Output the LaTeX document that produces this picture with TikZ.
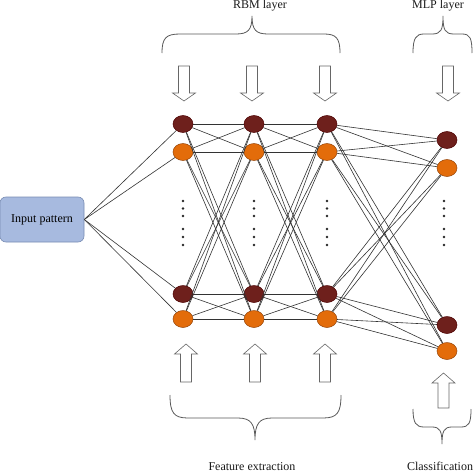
\documentclass[tikz,border=0pt]{standalone}
\usepackage{fontspec}
\setmainfont{Liberation Serif}
\usetikzlibrary{shapes.geometric}
\begin{document}
\begin{tikzpicture}[x=1pt,y=-1pt,
  lbl/.style={font=\fontsize{12}{14}\selectfont, text=black!90, inner sep=0pt, anchor=base},
  darkn/.style={ellipse, draw=black!70!red, line width=0.5pt, fill={rgb,255:red,110;green,32;blue,28}, minimum width=20pt, minimum height=17pt, inner sep=0pt},
  orangen/.style={ellipse, draw={rgb,255:red,150;green,70;blue,10}, line width=0.5pt, fill={rgb,255:red,227;green,108;blue,10}, minimum width=20pt, minimum height=17pt, inner sep=0pt},
  link/.style={draw=black!80, line width=0.6pt},
  bracestyle/.style={draw=black!65, line width=0.8pt},
  blockarrow/.style={draw=black!60, line width=0.6pt, fill=white},
  inbox/.style={rectangle, rounded corners=6pt, draw={rgb,255:red,120;green,140;blue,180}, line width=0.6pt, fill={rgb,255:red,167;green,186;blue,223}, minimum width=84pt, minimum height=45pt, inner sep=0pt, font=\fontsize{12}{14}\selectfont}
]
\useasboundingbox (0,0) rectangle (474,474);
\path[fill=white] (0,0) rectangle (474,474);

% input box
\node[inbox] (inp) at (42,219.5) {Input pattern};

% RBM columns
\foreach \c/\x in {1/183,2/254,3/327}{
  \node[darkn]   (c\c a) at (\x,124) {};
  \node[orangen] (c\c b) at (\x,152) {};
  \node[darkn]   (c\c c) at (\x,294) {};
  \node[orangen] (c\c d) at (\x,319) {};
  \foreach \y in {201,208.5,216,229,237,245} \fill[black!85] (\x,\y) circle (1.4pt);
}
% MLP column
\node[darkn]   (c4a) at (447,140) {};
\node[orangen] (c4b) at (447,168) {};
\node[darkn]   (c4c) at (447,325) {};
\node[orangen] (c4d) at (447,351) {};
\foreach \y in {201,208.5,216,229,237,245} \fill[black!85] (444,\y) circle (1.4pt);

% connectors
\foreach \t in {a,b,c,d} \draw[link] (inp.east) -- (c1\t);
\foreach \s/\t in {1/2,2/3,3/4}{
  \foreach \p in {a,b,c,d}{
    \foreach \q in {a,b,c,d}{
      \draw[link] (c\s\p) -- (c\t\q);
    }
  }
}

% block arrows (down)
\foreach \x in {184,252,325,448}{
  \draw[blockarrow] (\x-5.5,66) -- (\x+5.5,66) -- (\x+5.5,93) -- (\x+11.5,93) -- (\x,101) -- (\x-11.5,93) -- (\x-5.5,93) -- cycle;
}
% block arrows (up)
\foreach \x in {186,255,325}{
  \draw[blockarrow] (\x-5.5,382) -- (\x+5.5,382) -- (\x+5.5,354) -- (\x+11.5,354) -- (\x,344) -- (\x-11.5,354) -- (\x-5.5,354) -- cycle;
}
\draw[blockarrow] (443.5-5.5,408) -- (443.5+5.5,408) -- (443.5+5.5,383) -- (443.5+11.5,383) -- (443.5,373) -- (443.5-11.5,383) -- (443.5-5.5,383) -- cycle;

% braces
\draw[bracestyle] (162,53) .. controls (162,38) and (166,34) .. (180,34) -- (236,34) .. controls (248,34) and (252,30) .. (252,16) .. controls (252,30) and (256,34) .. (268,34) -- (324,34) .. controls (336,34) and (340,38) .. (340,53);
\draw[bracestyle] (413,53) .. controls (413,38) and (416,34) .. (424,34) -- (432,34) .. controls (441,34) and (443,30) .. (443,16) .. controls (443,30) and (445,34) .. (454,34) -- (462,34) .. controls (470,34) and (472,38) .. (472,53);
\draw[bracestyle] (170,395) .. controls (170,413) and (174,418) .. (188,418) -- (238,418) .. controls (251,418) and (255,424) .. (255,440) .. controls (255,424) and (259,418) .. (272,418) -- (323,418) .. controls (337,418) and (341,413) .. (341,395);
\draw[bracestyle] (413,409) .. controls (413,423) and (416,427) .. (424,427) -- (432,427) .. controls (440,427) and (442,431) .. (442,444) .. controls (442,431) and (444,427) .. (452,427) -- (461,427) .. controls (469,427) and (471,423) .. (471,409);

% labels
\node[lbl] (rbm) at (260,8) {RBM layer};
\node[lbl] (mlp) at (438,8) {MLP layer};
\node[lbl] (fe) at (252,470) {Feature extraction};
\node[lbl] (cl) at (440,470) {Classification};
\end{tikzpicture}
\end{document}
